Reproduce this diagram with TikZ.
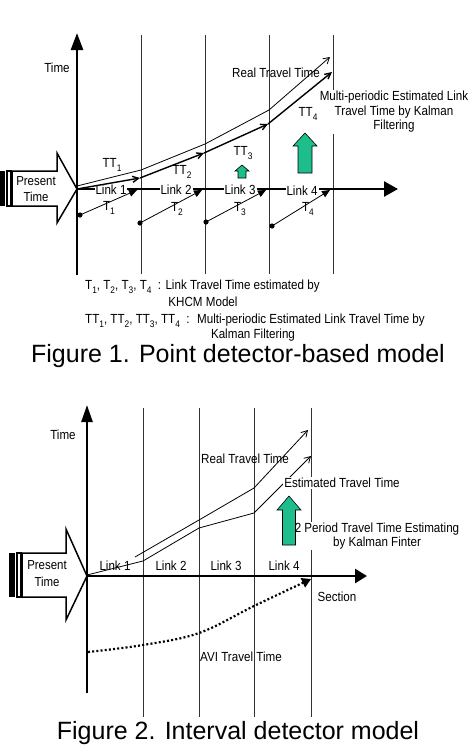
\documentclass[tikz,border=0pt]{standalone}
\usepackage{fontspec}
\setmainfont{Liberation Sans}
\newfontfamily\labfont[FakeStretch=0.88]{Liberation Sans}
\usetikzlibrary{arrows.meta}
\definecolor{kalgreen}{RGB}{30,190,140}
% subscript for the T and TT labels
\newcommand\ssub[1]{\raisebox{-0.55ex}{\fontsize{9.5}{9.5}\selectfont #1}}
% green block arrow: x, tip, neck, bottom, head half width, shaft half width
\newcommand\greenup[6]{\draw[upblock] (#1,#2) -- (#1+#5,#3) -- (#1+#6,#3) -- (#1+#6,#4)
  -- (#1-#6,#4) -- (#1-#6,#3) -- (#1-#5,#3) -- cycle;}
\tikzset{
  lab/.style={font=\labfont\fontsize{13.2}{14.5}\selectfont, inner sep=1pt},
  axis/.style={line width=2.6pt},
  gridline/.style={line width=0.9pt, black!80},
  tarrow/.style={line width=0.8pt, -{Triangle[length=8pt,width=7pt]}},
  estline/.style={line width=1.4pt, -{Straight Barb[length=6pt,width=6pt]}},
  realline/.style={line width=0.8pt},
  upblock/.style={draw=black, line width=0.6pt, fill=kalgreen},
  present/.style={line width=1.5pt},
  caption/.style={font=\fontsize{25}{28}\selectfont, inner sep=0pt},
}
\begin{document}
\begin{tikzpicture}[x=1pt,y=-1pt]
  \useasboundingbox (0,0) rectangle (468,750);

  %%%%%%%%%%%%%%%%%%%%%%%%%%%%%%%%%%%%%%%%%%%%%%%%%%%%%%%%%%%%%%%%%%%%%%%%%%%
  %%%%  Figure 1
  \coordinate (o1) at (77,189);
  \foreach \x in {141,205,269,333}
    {\draw[gridline] (\x,35) -- (\x,274);}
  \draw[axis, -{Triangle[length=17pt,width=12pt]}] (77,275) -- (77,33);
  \node[lab] (time1) at (57,68) {Time};

  % present time block arrow
  \fill (0,171) rectangle (5,206);
  \draw[present] (7,171) rectangle (11,206);
  \draw[present] (12,171) -- (57,171) -- (57,153) -- (o1) -- (57,223) -- (57,206)
    -- (12,206) -- cycle;
  \node[lab, align=center, font=\labfont\fontsize{13}{16}\selectfont] (pres1) at (36,189) {Present\\Time};

  \draw[axis, -{Triangle[length=14pt,width=15pt]}] (o1) -- (398,189);
  \foreach \x/\n/\y in {111/1/190,176/2/190,240/3/190,302/4/191}
    {\node[lab, fill=white] (link\n) at (\x,\y) {Link \n};}

  % link travel time by KHCM
  \foreach \sx/\sy/\ex/\n/\lx/\ly in
    {80/215/137/1/109/208, 140/223/202/2/177/209, 206/222/266/3/240/209, 272/226/330/4/308/209}
   {\coordinate (ts\n) at (\sx,\sy);
    \coordinate (te\n) at (\ex,190);
    \draw[tarrow] (ts\n) -- (te\n);
    \fill (ts\n) circle (2.6pt);
    \node[lab] (tl\n) at (\lx,\ly) {T\ssub{\n}};}

  % real travel time
  \coordinate (r0) at (77,186);
  \coordinate (r1) at (141,170);
  \coordinate (r2) at (205,144);
  \coordinate (r3) at (269,110);
  \coordinate (r4) at (330,57);
  \draw[realline] (r0) -- (r1) -- (r2) -- (r3);
  \draw[realline, -{Straight Barb[length=6pt,width=7pt]}] (r3) -- (r4);

  % kalman filtering estimate
  \coordinate (e0) at (77,189);
  \coordinate (e1) at (140,178);
  \coordinate (e2) at (204,153);
  \coordinate (e3) at (268,124);
  \coordinate (e4) at (332,72);
  \draw[estline] (e0) -- (e1);
  \draw[estline] (e1) -- (e2);
  \draw[estline] (e2) -- (e3);
  \draw[estline] (e3) -- (e4);
  \foreach \x/\y/\n in {112/165/1,182/172/2,243/153/3,308/114/4}
    {\node[lab] (ttl\n) at (\x,\y) {TT\ssub{\n}};}

  \greenup{242}{165}{171}{178}{7}{4}
  \greenup{305}{133}{146}{173}{12}{7}

  \node[lab] (real1) at (276,73) {Real Travel Time};
  \node[lab, fill=white, align=center] (multi) at (394,112)
    {Multi-periodic Estimated Link\\Travel Time by Kalman\\Filtering};

  % legend
  \node[lab, anchor=west] (leg1) at (84,287)
    {T\ssub{1}, T\ssub{2}, T\ssub{3}, T\ssub{4} \ : Link Travel Time estimated by};
  \node[lab] (leg1b) at (203,302) {KHCM Model};
  \node[lab, anchor=west] (leg2) at (84,321)
    {TT\ssub{1}, TT\ssub{2}, TT\ssub{3}, TT\ssub{4} \ : \ Multi-periodic Estimated Link Travel Time by};
  \node[lab] (leg2b) at (253,335) {Kalman Filtering};

  \node[caption] (cap1) at (238,356) {Figure 1. Point detector-based model};

  %%%%%%%%%%%%%%%%%%%%%%%%%%%%%%%%%%%%%%%%%%%%%%%%%%%%%%%%%%%%%%%%%%%%%%%%%%%
  %%%%  Figure 2
  \coordinate (o2) at (87,576);
  \foreach \x in {143,199,254,311}
    {\draw[gridline] (\x,408) -- (\x,717);}
  \draw[axis, -{Triangle[length=17pt,width=11pt]}] (87,693) -- (87,405);
  \node[lab] (time2) at (63,435) {Time};
  \draw[axis, -{Triangle[length=12pt,width=14pt]}] (o2) -- (367,576);
  \node[lab] (sect) at (337,597) {Section};

  % present time block arrow
  \fill (9,553) rectangle (15,597);
  \draw[present] (17,553) rectangle (21,597);
  \draw[present] (22,553) -- (66,553) -- (66,529) -- (o2) -- (66,620) -- (66,597)
    -- (22,597) -- cycle;
  \node[lab, align=center, font=\labfont\fontsize{13}{17}\selectfont] (pres2) at (47,574) {Present\\Time};

  \foreach \x/\n in {115/1,171/2,226/3,284/4}
    {\node[lab] (slink\n) at (\x,566) {Link \n};}

  % real and estimated travel time
  \coordinate (q0) at (135,557);
  \coordinate (q1) at (199,520);
  \coordinate (q2) at (254,488);
  \coordinate (q3) at (308,430);
  \draw[realline, -{Straight Barb[length=6pt,width=7pt]}] (q0) -- (q1) -- (q2) -- (q3);
  \coordinate (p0) at (87,575);
  \coordinate (p1) at (143,561);
  \coordinate (p2) at (199,528);
  \coordinate (p3) at (254,513);
  \coordinate (p4) at (311,456);
  \draw[realline, -{Straight Barb[length=6pt,width=7pt]}] (p0) -- (p1) -- (p2) -- (p3) -- (p4);

  \node[lab] (real2) at (245,459) {Real Travel Time};
  \node[lab, fill=white] (est2) at (342,483) {Estimated Travel Time};
  \node[lab, fill=white, align=center] (period) at (377,536)
    {2 Period Travel Time Estimating\\by Kalman Finter};
  \greenup{289}{496}{510}{545}{12}{6.5}

  % AVI travel time
  \coordinate (a0) at (88,652);
  \coordinate (a4) at (311,579);
  \draw[line width=2.2pt, dash pattern=on 2pt off 2.2pt, -{Triangle[length=9pt,width=10pt]}]
    plot[smooth, tension=0.6] coordinates {(a0) (143,645) (199,633) (254,606) (a4)};
  \node[lab] (avi) at (241,657) {AVI Travel Time};

  \node[caption] (cap2) at (238,733) {Figure 2. Interval detector model};
\end{tikzpicture}
\end{document}
